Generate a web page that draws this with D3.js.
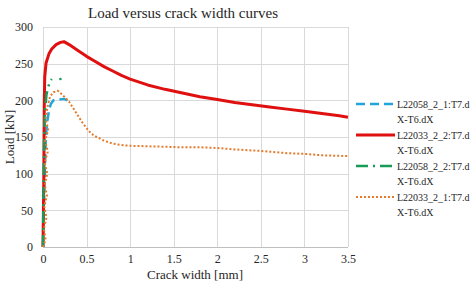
<!DOCTYPE html>
<html>
<head>
<meta charset="utf-8">
<script src="https://cdn.jsdelivr.net/npm/d3@7"></script>
<style>
  body { margin: 0; background: #fff; }
  text { font-family: 'Liberation Serif', 'Times New Roman', serif; fill: #262626; }
</style>
</head>
<body>
<div id="chart"></div>
<script>

var chartTitle = 'Load versus crack width curves';
var xTicks = [0, 0.5, 1, 1.5, 2, 2.5, 3, 3.5];
var yTicks = [0, 50, 100, 150, 200, 250, 300];

// crack width [mm] / load [kN]
var blueX = [0, 0.01, 0.02, 0.03, 0.04, 0.05, 0.07, 0.09, 0.12, 0.18, 0.24, 0.28];
var blueY = [0, 50, 100, 140, 160, 172, 187, 195, 200, 201, 202, 200];

var redX = [0, 0.005, 0.01, 0.012, 0.015, 0.02, 0.035, 0.07, 0.1, 0.15, 0.2, 0.24, 0.3, 0.4, 0.5, 0.6, 0.7, 0.8, 0.9, 1.0, 1.2, 1.4, 1.6, 1.8, 2.0, 2.2, 2.4, 2.6, 2.8, 3.0, 3.2, 3.4, 3.5];
var redY = [0, 50, 100, 150, 200, 232, 251, 264, 270, 276, 279, 280, 276, 268, 260, 253, 246, 240, 234, 229, 221, 215, 210, 205, 201, 197, 194, 191, 188, 185, 182, 179, 177];

var greenX = [0, 0.005, 0.01, 0.015, 0.02, 0.03, 0.04, 0.06, 0.08, 0.1];
var greenY = [0, 60, 120, 160, 180, 195, 208, 218, 226, 229];
// lone green reading off to the right of the rise
var greenDotX = [0.2];
var greenDotY = [229];

var orangeX = [0, 0.03, 0.01, 0.04, 0.015, 0.045, 0.02, 0.05, 0.02, 0.055, 0.025, 0.06, 0.03, 0.05, 0.08, 0.12, 0.17, 0.22, 0.3, 0.38, 0.45, 0.5, 0.55, 0.6, 0.65, 0.7, 0.8, 0.9, 1.0, 1.3, 1.6, 1.8, 2.0, 2.2, 2.5, 2.8, 3.0, 3.2, 3.5];
var orangeY = [0, 10, 25, 40, 55, 70, 85, 100, 115, 130, 145, 160, 175, 190, 205, 211, 213, 208, 198, 183, 170, 162, 155, 151, 148, 145, 141, 139, 138, 137, 136, 136, 135, 133, 131, 128, 127, 125, 124];

var seriesNames = ['L22058_2_1:T7.d|X-T6.dX', 'L22033_2_2:T7.d|X-T6.dX', 'L22058_2_2:T7.d|X-T6.dX', 'L22033_2_1:T7.d|X-T6.dX'];

var series = [
  { name: seriesNames[0], xs: blueX, ys: blueY, color: '#22a5d8', width: 2.5, dash: '9,5' },
  { name: seriesNames[1], xs: redX, ys: redY, color: '#e01010', width: 3, dash: null },
  { name: seriesNames[2], xs: greenX, ys: greenY, color: '#179b57', width: 2.5, dash: '12,5,2,5' },
  { name: seriesNames[3], xs: orangeX, ys: orangeY, color: '#e27b2c', width: 2, dash: '2,2' }
];

var W = 474, H = 284;
var margin = { left: 43, right: 126, top: 27, bottom: 37 };

var svg = d3.select('#chart')
  .append('svg')
    .attr('width', W)
    .attr('height', H);

var x = d3.scaleLinear().domain([0, 3.5]).range([margin.left, W - margin.right]);
var y = d3.scaleLinear().domain([0, 300]).range([H - margin.bottom, margin.top]);

// GRID

svg.append('g')
  .selectAll('line.vgrid')
  .data(xTicks)
  .enter().append('line')
    .attr('x1', function(d) { return Math.round(x(d)) + 0.5 })
    .attr('x2', function(d) { return Math.round(x(d)) + 0.5 })
    .attr('y1', y(300))
    .attr('y2', y(0))
    .attr('stroke', '#d9d9d9');

svg.append('g')
  .selectAll('line.hgrid')
  .data(yTicks)
  .enter().append('line')
    .attr('y1', function(d) { return Math.round(y(d)) + 0.5 })
    .attr('y2', function(d) { return Math.round(y(d)) + 0.5 })
    .attr('x1', x(0))
    .attr('x2', x(3.5))
    .attr('stroke', function(d) { return d == 0 ? '#bfbfbf' : '#d9d9d9' });

// AXES

var xAxis = svg.append('g')
  .attr('transform', 'translate(0,' + y(0) + ')')
  .attr('font-family', null)
  .call(d3.axisBottom(x).tickValues(xTicks).tickSize(0).tickPadding(7).tickFormat(d3.format('')));
xAxis.attr('font-family', null).attr('font-size', null);
xAxis.select('.domain').remove();
xAxis.selectAll('text').attr('font-size', 12).attr('fill', '#262626');

var yAxis = svg.append('g')
  .attr('transform', 'translate(' + x(0) + ',0)')
  .call(d3.axisLeft(y).tickValues(yTicks).tickSize(0).tickPadding(10));
yAxis.attr('font-family', null).attr('font-size', null);
yAxis.select('.domain').remove();
yAxis.selectAll('text').attr('font-size', 12).attr('fill', '#262626');

svg.append('text')
  .text(chartTitle)
  .attr('x', 183)
  .attr('y', 18)
  .attr('text-anchor', 'middle')
  .attr('font-size', 15);

svg.append('text')
  .text('Crack width [mm]')
  .attr('x', 195)
  .attr('y', 279)
  .attr('text-anchor', 'middle')
  .attr('font-size', 13);

svg.append('text')
  .text('Load [kN]')
  .attr('transform', 'translate(14,137) rotate(-90)')
  .attr('text-anchor', 'middle')
  .attr('font-size', 13);

// CURVES

var line = d3.line()
  .x(function(d) { return x(d[0]) })
  .y(function(d) { return y(d[1]) });

svg.append('g')
  .selectAll('path.curve')
  .data(series)
  .enter().append('path')
    .attr('class', 'curve')
    .attr('d', function(d) { return line(d.xs.map(function(v, i) { return [v, d.ys[i]] })) })
    .attr('fill', 'none')
    .attr('stroke', function(d) { return d.color })
    .attr('stroke-width', function(d) { return d.width })
    .attr('stroke-dasharray', function(d) { return d.dash })
    .attr('stroke-linejoin', 'round');

svg.selectAll('circle.green-dot')
  .data(greenDotX)
  .enter().append('circle')
    .attr('class', 'green-dot')
    .attr('cx', function(d) { return x(d) })
    .attr('cy', function(d, i) { return y(greenDotY[i]) })
    .attr('r', 1.3)
    .attr('fill', '#179b57');

// LEGEND

var legend = svg.selectAll('g.legend')
  .data(series)
  .enter().append('g')
    .attr('class', 'legend')
    .attr('transform', function(d, i) { return 'translate(356,' + (104 + i * 31) + ')' });

legend.append('line')
  .attr('x1', 0)
  .attr('x2', 39)
  .attr('stroke', function(d) { return d.color })
  .attr('stroke-width', function(d) { return d.width })
  .attr('stroke-dasharray', function(d) { return d.dash });

legend.selectAll('text')
  .data(function(d) { return d.name.split('|') })
  .enter().append('text')
    .text(function(d) { return d })
    .attr('x', 41)
    .attr('y', function(d, i) { return 4 + i * 15 })
    .attr('font-size', 10);

</script>
</body>
</html>
